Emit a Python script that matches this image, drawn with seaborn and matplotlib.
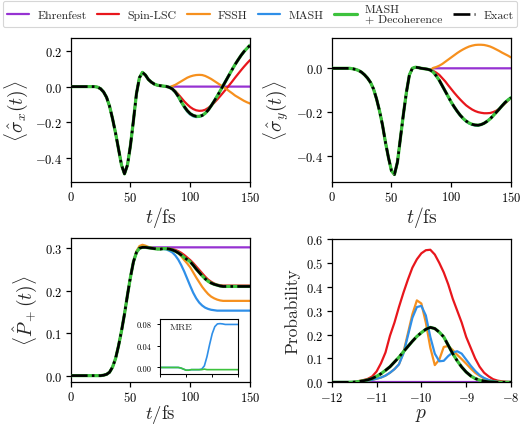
import numpy as np
import pandas as pd
import matplotlib
matplotlib.use("Agg")
import matplotlib.pyplot as plt
import seaborn as sns

# ---------------- data ----------------
t = np.arange(0, 150.01, 2.5)          # 61 time points (fs)
t_mre = np.arange(0, 150.01, 5.0)      # 31 points for inset
p = np.round(np.arange(-12.0, -7.95, 0.1), 1)  # 41 momentum points

labels = ["Ehrenfest", "Spin-LSC", "FSSH", "MASH", "MASH\n+ Decoherence", "Exact"]
colors = ["#9632d2", "#e8161c", "#f6901e", "#2f8fe8", "#3dc23d", "black"]

# sigma_x
sx_early = [0, 0, 0, 0, 0, 0, 0, 0, 0, -0.003, -0.012, -0.03, -0.06, -0.11, -0.18, -0.26,
            -0.35, -0.44, -0.49, -0.44, -0.33, -0.19, -0.04, 0.05, 0.08, 0.065, 0.04, 0.025,
            0.014, 0.008, 0.005, 0.003, 0.001, -0.004]
sx_exact_late = [-0.013, -0.03, -0.055, -0.085, -0.112, -0.135, -0.152, -0.162, -0.167, -0.167,
                 -0.162, -0.15, -0.132, -0.108, -0.082, -0.054, -0.025, 0.005, 0.035, 0.065,
                 0.095, 0.124, 0.15, 0.175, 0.197, 0.215, 0.232]
sx_mash_late = [-0.014, -0.032, -0.058, -0.089, -0.117, -0.14, -0.157, -0.167, -0.171, -0.17,
                -0.164, -0.151, -0.132, -0.107, -0.08, -0.052, -0.023, 0.007, 0.037, 0.067,
                0.096, 0.124, 0.15, 0.174, 0.196, 0.214, 0.23]
sx_lsc_late = [-0.012, -0.025, -0.043, -0.063, -0.083, -0.1, -0.115, -0.126, -0.133, -0.136,
               -0.135, -0.13, -0.12, -0.107, -0.091, -0.073, -0.054, -0.034, -0.014, 0.007,
               0.028, 0.05, 0.071, 0.092, 0.112, 0.131, 0.149]
sx_fssh_late = [0.003, 0.01, 0.02, 0.03, 0.04, 0.05, 0.057, 0.062, 0.065, 0.066, 0.065, 0.06,
                0.052, 0.043, 0.032, 0.021, 0.01, 0.0, -0.012, -0.025, -0.037, -0.05, -0.06,
                -0.07, -0.08, -0.088, -0.095]
sx_ehr_late = [0.0] * 27

# sigma_y
sy_early = [0, 0, 0, 0, 0, 0, 0, -0.002, -0.005, -0.01, -0.018, -0.03, -0.045, -0.065, -0.095,
            -0.14, -0.195, -0.26, -0.34, -0.41, -0.47, -0.487, -0.43, -0.32, -0.21, -0.11,
            -0.03, 0.0, 0.005, 0.003, 0.0, -0.002, -0.004, -0.008]
sy_exact_late = [-0.018, -0.035, -0.055, -0.08, -0.105, -0.13, -0.155, -0.177, -0.197, -0.215,
                 -0.23, -0.242, -0.251, -0.257, -0.26, -0.261, -0.258, -0.252, -0.243, -0.232,
                 -0.218, -0.203, -0.188, -0.172, -0.157, -0.145, -0.135]
sy_mash_late = [-0.018, -0.036, -0.057, -0.082, -0.107, -0.132, -0.157, -0.179, -0.199, -0.217,
                -0.232, -0.244, -0.253, -0.259, -0.262, -0.262, -0.259, -0.252, -0.243, -0.231,
                -0.217, -0.202, -0.187, -0.171, -0.156, -0.144, -0.134]
sy_lsc_late = [-0.012, -0.02, -0.03, -0.045, -0.06, -0.078, -0.095, -0.112, -0.128, -0.143,
               -0.157, -0.17, -0.18, -0.189, -0.196, -0.201, -0.204, -0.206, -0.206, -0.205,
               -0.201, -0.195, -0.186, -0.174, -0.161, -0.148, -0.135]
sy_fssh_late = [0.002, 0.006, 0.012, 0.02, 0.03, 0.04, 0.05, 0.06, 0.07, 0.079, 0.087, 0.094,
                0.1, 0.104, 0.107, 0.108, 0.108, 0.107, 0.104, 0.1, 0.094, 0.087, 0.08, 0.072,
                0.065, 0.058, 0.05]
sy_ehr_late = [0.0] * 27

# P_+
pp_early = [0, 0, 0, 0, 0, 0, 0, 0, 0, 0, 0, 0.001, 0.003, 0.008, 0.02, 0.04, 0.07, 0.105,
            0.145, 0.19, 0.232, 0.268, 0.29, 0.3]
pp_fssh_early = [0, 0, 0, 0, 0, 0, 0, 0, 0, 0, 0, 0.001, 0.003, 0.008, 0.02, 0.04, 0.07, 0.105,
                 0.145, 0.19, 0.232, 0.268, 0.293, 0.305]
pp_exact_late = [0.302, 0.302, 0.301, 0.3, 0.299, 0.298, 0.298, 0.299, 0.299, 0.298, 0.296,
                 0.293, 0.289, 0.284, 0.278, 0.273, 0.268, 0.26, 0.251, 0.243, 0.235, 0.228,
                 0.222, 0.218, 0.215, 0.213, 0.211] + [0.21] * 10
pp_lsc_late = [0.302, 0.302, 0.301, 0.3, 0.299, 0.298, 0.298, 0.299, 0.299, 0.299, 0.298,
               0.296, 0.293, 0.289, 0.284, 0.278, 0.272, 0.265, 0.257, 0.249, 0.241, 0.233,
               0.226, 0.221, 0.217, 0.214, 0.213] + [0.212] * 10
pp_fssh_late = [0.308, 0.306, 0.303, 0.301, 0.3, 0.299, 0.299, 0.3, 0.299, 0.298, 0.296,
                0.293, 0.288, 0.281, 0.272, 0.264, 0.255, 0.243, 0.231, 0.22, 0.209, 0.2,
                0.192, 0.186, 0.182, 0.179, 0.177] + [0.176] * 10
pp_mash_late = [0.302, 0.302, 0.301, 0.3, 0.299, 0.298, 0.298, 0.298, 0.297, 0.294, 0.29,
                0.283, 0.273, 0.26, 0.245, 0.228, 0.211, 0.195, 0.182, 0.172, 0.165, 0.16,
                0.157, 0.155, 0.154, 0.153, 0.153] + [0.153] * 10
pp_ehr_late = [0.302] * 37

# inset MRE
mre_deco = [0, 0, 0, 0, 0, 0, 0, 0, -0.001, -0.003, -0.005, -0.005, -0.004, -0.004, -0.004,
            -0.004, -0.004, -0.003, -0.004, -0.004, -0.004, -0.004, -0.004, -0.004, -0.004,
            -0.004, -0.004, -0.004, -0.004, -0.004, -0.004]
mre_mash = [0, 0, 0, 0, 0, 0, 0, 0, -0.001, -0.003, -0.005, -0.005, -0.004, -0.004, -0.004,
            -0.004, -0.003, 0.003, 0.02, 0.042, 0.062, 0.075, 0.08, 0.0805, 0.08, 0.079, 0.079,
            0.079, 0.079, 0.079, 0.079]

# momentum distribution
pd_ehr = [0.0] * 41
pd_lsc = [0, 0, 0, 0, 0, 0, 0.005, 0.009, 0.014, 0.024, 0.045, 0.08, 0.125, 0.195, 0.25, 0.315,
          0.375, 0.43, 0.48, 0.515, 0.54, 0.553, 0.555, 0.535, 0.5, 0.46, 0.41, 0.35, 0.3, 0.25,
          0.19, 0.145, 0.1, 0.065, 0.04, 0.025, 0.013, 0.007, 0.004, 0.002, 0.001]
pd_fssh = [0, 0, 0, 0, 0, 0.001, 0.002, 0.004, 0.007, 0.01, 0.015, 0.02, 0.028, 0.04, 0.055,
           0.075, 0.125, 0.205, 0.285, 0.343, 0.33, 0.25, 0.145, 0.072, 0.095, 0.148, 0.152,
           0.135, 0.115, 0.097, 0.078, 0.058, 0.04, 0.027, 0.016, 0.009, 0.005, 0.002, 0.001,
           0, 0]
pd_mash = [0, 0, 0, 0, 0, 0.001, 0.002, 0.004, 0.007, 0.01, 0.015, 0.02, 0.028, 0.04, 0.055,
           0.075, 0.12, 0.195, 0.27, 0.315, 0.32, 0.28, 0.19, 0.12, 0.088, 0.09, 0.11, 0.125,
           0.13, 0.12, 0.095, 0.07, 0.048, 0.03, 0.018, 0.01, 0.005, 0.002, 0.001, 0, 0]
pd_exact = [0, 0, 0, 0, 0, 0.001, 0.003, 0.006, 0.01, 0.016, 0.025, 0.036, 0.05, 0.065, 0.085,
            0.105, 0.128, 0.15, 0.172, 0.192, 0.208, 0.222, 0.23, 0.225, 0.21, 0.19, 0.155,
            0.12, 0.09, 0.064, 0.043, 0.027, 0.016, 0.009, 0.005, 0.002, 0.001, 0, 0, 0, 0]

# ---------------- style ----------------
sns.set_theme(style="ticks")
plt.rcParams.update({
    "font.family": "serif",
    "font.serif": ["cmr10", "DejaVu Serif"],
    "mathtext.fontset": "cm",
    "axes.formatter.use_mathtext": True,
    "axes.edgecolor": "black",
    "axes.linewidth": 0.9,
    "xtick.color": "black",
    "ytick.color": "black",
    "xtick.labelsize": 9,
    "ytick.labelsize": 9,
    "xtick.major.size": 3.5,
    "ytick.major.size": 3.5,
    "xtick.major.width": 0.9,
    "ytick.major.width": 0.9,
    "axes.unicode_minus": True,
})

W, H = 520, 427
fig = plt.figure(figsize=(W / 100, H / 100), dpi=100)


def ax_px(l, t_, r, b):
    return fig.add_axes([l / W, 1 - b / H, (r - l) / W, (b - t_) / H])


ax1 = ax_px(70.7, 39, 250, 182.7)
ax2 = ax_px(331.7, 39, 511, 182.7)
ax3 = ax_px(70.7, 239, 250, 383)
ax4 = ax_px(331.7, 240, 511, 383.3)
axin = ax_px(160, 320, 238.3, 375)

LW = 1.6


def draw(ax, x, series):
    for i, y in enumerate(series):
        if i == 5:
            sns.lineplot(x=x, y=y, ax=ax, color=colors[i], linewidth=1.9, linestyle="-.",
                         label=labels[i], zorder=6)
        elif i == 4:
            sns.lineplot(x=x, y=y, ax=ax, color=colors[i], linewidth=2.3,
                         label=labels[i], zorder=5)
        else:
            sns.lineplot(x=x, y=y, ax=ax, color=colors[i], linewidth=LW,
                         label=labels[i], zorder=2 + i * 0.1)
    if ax.get_legend() is not None:
        ax.get_legend().remove()


draw(ax1, t, [sx_early + sx_ehr_late, sx_early + sx_lsc_late, sx_early + sx_fssh_late,
              sx_early + sx_mash_late, sx_early + sx_exact_late, sx_early + sx_exact_late])
draw(ax2, t, [sy_early + sy_ehr_late, sy_early + sy_lsc_late, sy_early + sy_fssh_late,
              sy_early + sy_mash_late, sy_early + sy_exact_late, sy_early + sy_exact_late])
draw(ax3, t, [pp_early + pp_ehr_late, pp_early + pp_lsc_late, pp_fssh_early + pp_fssh_late,
              pp_early + pp_mash_late, pp_early + pp_exact_late, pp_early + pp_exact_late])
draw(ax4, p, [pd_ehr, pd_lsc, pd_fssh, pd_mash, pd_exact, pd_exact])

sns.lineplot(x=t_mre, y=mre_mash, ax=axin, color=colors[3], linewidth=1.2)
sns.lineplot(x=t_mre, y=mre_deco, ax=axin, color=colors[4], linewidth=1.2)

# axes settings
for ax in (ax1, ax2):
    ax.set_xlim(0, 150)
    ax.set_xticks([0, 50, 100, 150])
    ax.set_xlabel(r"$t/\mathrm{fs}$", fontsize=14, labelpad=0)
ax3.set_xlim(0, 150)
ax3.set_xticks([0, 50, 100, 150])
ax3.set_xlabel(r"$t/\mathrm{fs}$", fontsize=13.5, labelpad=-1.5)

ax1.set_ylim(-0.534, 0.273)
ax1.set_yticks([-0.4, -0.2, 0.0, 0.2])
ax1.set_ylabel(r"$\langle\hat{\sigma}_x(t)\rangle$", fontsize=14, labelpad=4)

ax2.set_ylim(-0.52, 0.139)
ax2.set_yticks([-0.4, -0.2, 0.0])
ax2.set_ylabel(r"$\langle\hat{\sigma}_y(t)\rangle$", fontsize=14, labelpad=4)

ax3.set_ylim(-0.015, 0.324)
ax3.set_yticks([0.0, 0.1, 0.2, 0.3])
ax3.set_ylabel(r"$\langle\hat{P}_+(t)\rangle$", fontsize=14, labelpad=4)

ax4.set_xlim(-12, -8)
ax4.set_ylim(0, 0.6)
ax4.set_xticks([-12, -11, -10, -9, -8])
ax4.set_yticks([0.0, 0.1, 0.2, 0.3, 0.4, 0.5, 0.6])
ax4.set_xlabel(r"$p$", fontsize=14, labelpad=1)
ax4.set_ylabel("Probability", fontsize=12.5, labelpad=4)

axin.set_xlim(0, 150)
axin.set_ylim(-0.012, 0.089)
axin.set_xticks([0, 50, 100, 150])
axin.set_xticklabels([])
axin.set_yticks([0.0, 0.04, 0.08])
axin.set_yticklabels(["0.00", "0.04", "0.08"])
axin.tick_params(labelsize=6, length=2.5, width=0.7)
axin.set_xlabel("")
axin.set_ylabel("")
for s in axin.spines.values():
    s.set_linewidth(0.8)
axin.text(0.12, 0.85, "MRE", transform=axin.transAxes, fontsize=7, va="center", ha="left")

for ax in (ax1, ax2, ax3, ax4):
    ax.tick_params(direction="out", pad=2.5)

handles, labs = ax1.get_legend_handles_labels()
leg = fig.legend(handles, labs, loc="upper left", ncol=6, mode="expand",
                 bbox_to_anchor=(3 / W, 1 - 2 / H, 514 / W, 0),
                 fontsize=8.5, handlelength=1.9, handletextpad=0.7, columnspacing=1.0,
                 frameon=True, fancybox=True, borderaxespad=0.0, borderpad=0.3)
leg.get_frame().set_edgecolor("0.8")
leg.get_frame().set_linewidth(0.8)
for txt in leg.get_texts():
    txt.set_linespacing(1.0)

fig.savefig("out.png", dpi=100)
